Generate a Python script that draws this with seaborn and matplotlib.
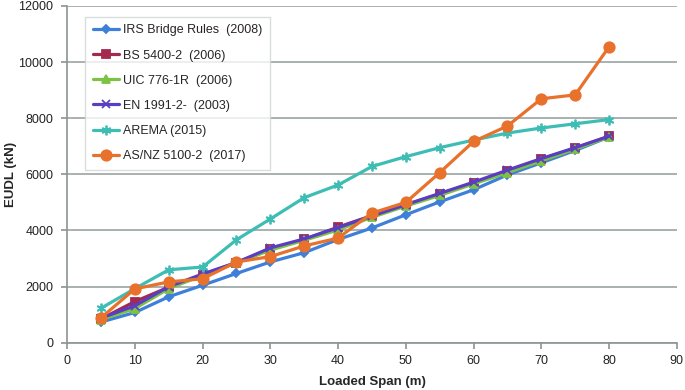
import pandas as pd
import numpy as np
import matplotlib
matplotlib.use("Agg")
import matplotlib.pyplot as plt
import seaborn as sns

# Loaded span (m)
span = [5, 10, 15, 20, 25, 30, 35, 40, 45, 50, 55, 60, 65, 70, 75, 80]

# EUDL (kN) for each code
irs = [740, 1080, 1640, 2050, 2470, 2880, 3210, 3680, 4090, 4560, 5020, 5450, 5980, 6410, 6850, 7330]
bs = [850, 1470, 1980, 2430, 2850, 3330, 3680, 4120, 4530, 4910, 5300, 5700, 6120, 6540, 6930, 7350]
uic = [830, 1220, 1930, 2400, 2850, 3300, 3650, 4020, 4470, 4870, 5250, 5660, 6060, 6480, 6900, 7330]
en = [880, 1320, 2000, 2450, 2860, 3380, 3700, 4100, 4520, 4920, 5320, 5720, 6150, 6560, 6950, 7360]
arema = [1230, 1930, 2600, 2700, 3670, 4410, 5170, 5620, 6280, 6630, 6950, 7220, 7470, 7650, 7800, 7950]
asnz = [890, 1920, 2170, 2280, 2880, 3070, 3450, 3730, 4620, 5000, 6060, 7170, 7720, 8690, 8830, 10540]

names = ["IRS Bridge Rules  (2008)", "BS 5400-2  (2006)", "UIC 776-1R  (2006)",
         "EN 1991-2-  (2003)", "AREMA (2015)", "AS/NZ 5100-2  (2017)"]
series = [irs, bs, uic, en, arema, asnz]
colors = ["#3E7FDA", "#A3294F", "#7DC242", "#5A3EC2", "#3DBDB4", "#E8712C"]
markers = ["D", "s", "^", "x", (6, 2, 0), "o"]
msizes = [4.5, 6, 6, 6, 7, 7.5]

sns.set_style("white")
plt.rcParams['font.family'] = ['Liberation Sans', 'DejaVu Sans']

fig = plt.figure(figsize=(6.85, 3.9), dpi=100)
ax = fig.add_axes([0.098, 0.121, 0.890, 0.864])

for name, vals, c, m, ms in zip(names, series, colors, markers, msizes):
    df = pd.DataFrame({"span": span, "eudl": vals})
    sns.lineplot(data=df, x="span", y="eudl", ax=ax, color=c, marker=m,
                 markersize=ms, linewidth=2.3, markeredgecolor=c,
                 markeredgewidth=1.3, label=name)

ax.set_xlim(0, 90)
ax.set_ylim(0, 12000)
ax.set_xticks(np.arange(0, 91, 10))
ax.set_yticks(np.arange(0, 12001, 2000))
ax.yaxis.grid(True, color="#9AA3A3", linewidth=1.2)
ax.xaxis.grid(False)
ax.set_axisbelow(True)
for s in ["top", "right"]:
    ax.spines[s].set_visible(False)
for s in ["left", "bottom"]:
    ax.spines[s].set_color("#8C9494")
    ax.spines[s].set_linewidth(1.2)
ax.tick_params(axis="both", direction="out", length=4, width=1.2, color="#8C9494",
               labelsize=9, labelcolor="#222222", bottom=True, left=True)
ax.tick_params(axis="y", pad=6)
ax.tick_params(axis="x", pad=5)
ax.set_xlabel("Loaded Span (m)", fontsize=9.5, fontweight="bold", labelpad=6)
ax.set_ylabel("EUDL (kN)", fontsize=9.5, fontweight="bold", labelpad=1)

leg = ax.legend(loc="upper left", bbox_to_anchor=(0.03, 0.967), borderaxespad=0,
                fontsize=9, frameon=True, fancybox=False, edgecolor="#D0D4D4",
                handlelength=2.1, handletextpad=0.3, labelspacing=1.05, borderpad=0.6)
leg.get_frame().set_linewidth(1.0)

fig.savefig("out.png", dpi=100)
